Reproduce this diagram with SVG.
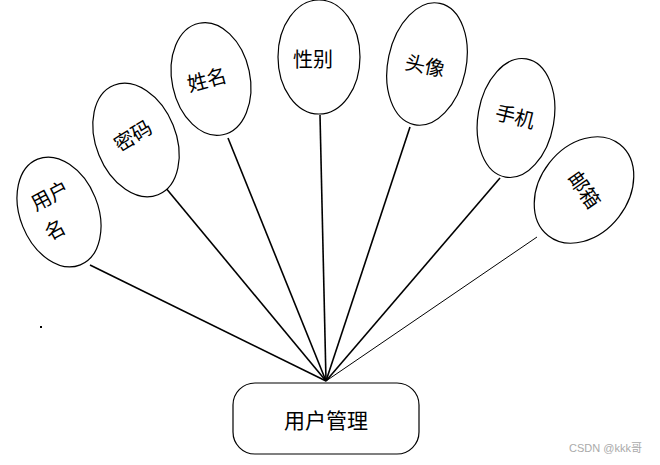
<svg xmlns="http://www.w3.org/2000/svg" width="660" height="465" viewBox="0 0 660 465">
<style>
.n{fill:#fff;stroke:#000;stroke-width:1.2}
.t{font-family:"Liberation Serif","Noto Sans CJK SC",serif;font-size:20px;fill:#000;text-anchor:middle;dominant-baseline:central}
.c line{stroke:#000;stroke-width:1.6}
</style>
<rect width="660" height="465" fill="#fff"/>
<g class="c" id="connectors">
<line x1="90" y1="265" x2="326" y2="381"/>
<line x1="165" y1="187" x2="326" y2="381"/>
<line x1="228" y1="138" x2="326" y2="381"/>
<line x1="320" y1="115" x2="326" y2="381"/>
<line x1="410" y1="127" x2="326" y2="381"/>
<line x1="500" y1="178" x2="326" y2="381"/>
<line x1="537" y1="237" x2="326" y2="381" style="stroke-width:1"/>
</g>
<g id="n-username">
<ellipse class="n" cx="59" cy="212" rx="39" ry="57" transform="rotate(-22 59 212)"/>
<text class="t" transform="translate(50 196) rotate(-28)">用户</text>
<text class="t" transform="translate(55 230) rotate(-28)">名</text>
</g>
<g id="n-password">
<ellipse class="n" cx="136" cy="140" rx="40" ry="59" transform="rotate(-22 136 140)"/>
<text class="t" transform="translate(133 136) rotate(-32)">密码</text>
</g>
<g id="n-name">
<ellipse class="n" cx="211" cy="79" rx="39" ry="57" transform="rotate(-12 211 79)"/>
<text class="t" transform="translate(207 80) rotate(-15)">姓名</text>
</g>
<g id="n-gender">
<ellipse class="n" cx="319" cy="57" rx="41" ry="57"/>
<text class="t" transform="translate(313 60)">性别</text>
</g>
<g id="n-avatar">
<ellipse class="n" cx="427" cy="64" rx="39" ry="62" transform="rotate(12 427 64)"/>
<text class="t" transform="translate(425 66) rotate(12)">头像</text>
</g>
<g id="n-phone">
<ellipse class="n" cx="516" cy="118" rx="38" ry="60" transform="rotate(10 516 118)"/>
<text class="t" transform="translate(515 117) rotate(14)">手机</text>
</g>
<g id="n-email">
<ellipse class="n" cx="584" cy="190" rx="44" ry="58" transform="rotate(38 584 190)"/>
<text class="t" transform="translate(584 190) rotate(55)">邮箱</text>
</g>
<g id="n-usermgmt">
<rect class="n" x="233" y="383" width="186" height="71" rx="22"/>
<text class="t" x="326" y="419" style="font-family:'Noto Sans CJK SC',sans-serif;font-size:21px">用户管理</text>
</g>
<rect x="40" y="326" width="2" height="2" fill="#000"/>
<text x="642" y="452" style="font-family:'Liberation Sans','Noto Sans CJK SC',sans-serif;font-size:11px;fill:#aaa;text-anchor:end">CSDN @kkk哥</text>
</svg>
